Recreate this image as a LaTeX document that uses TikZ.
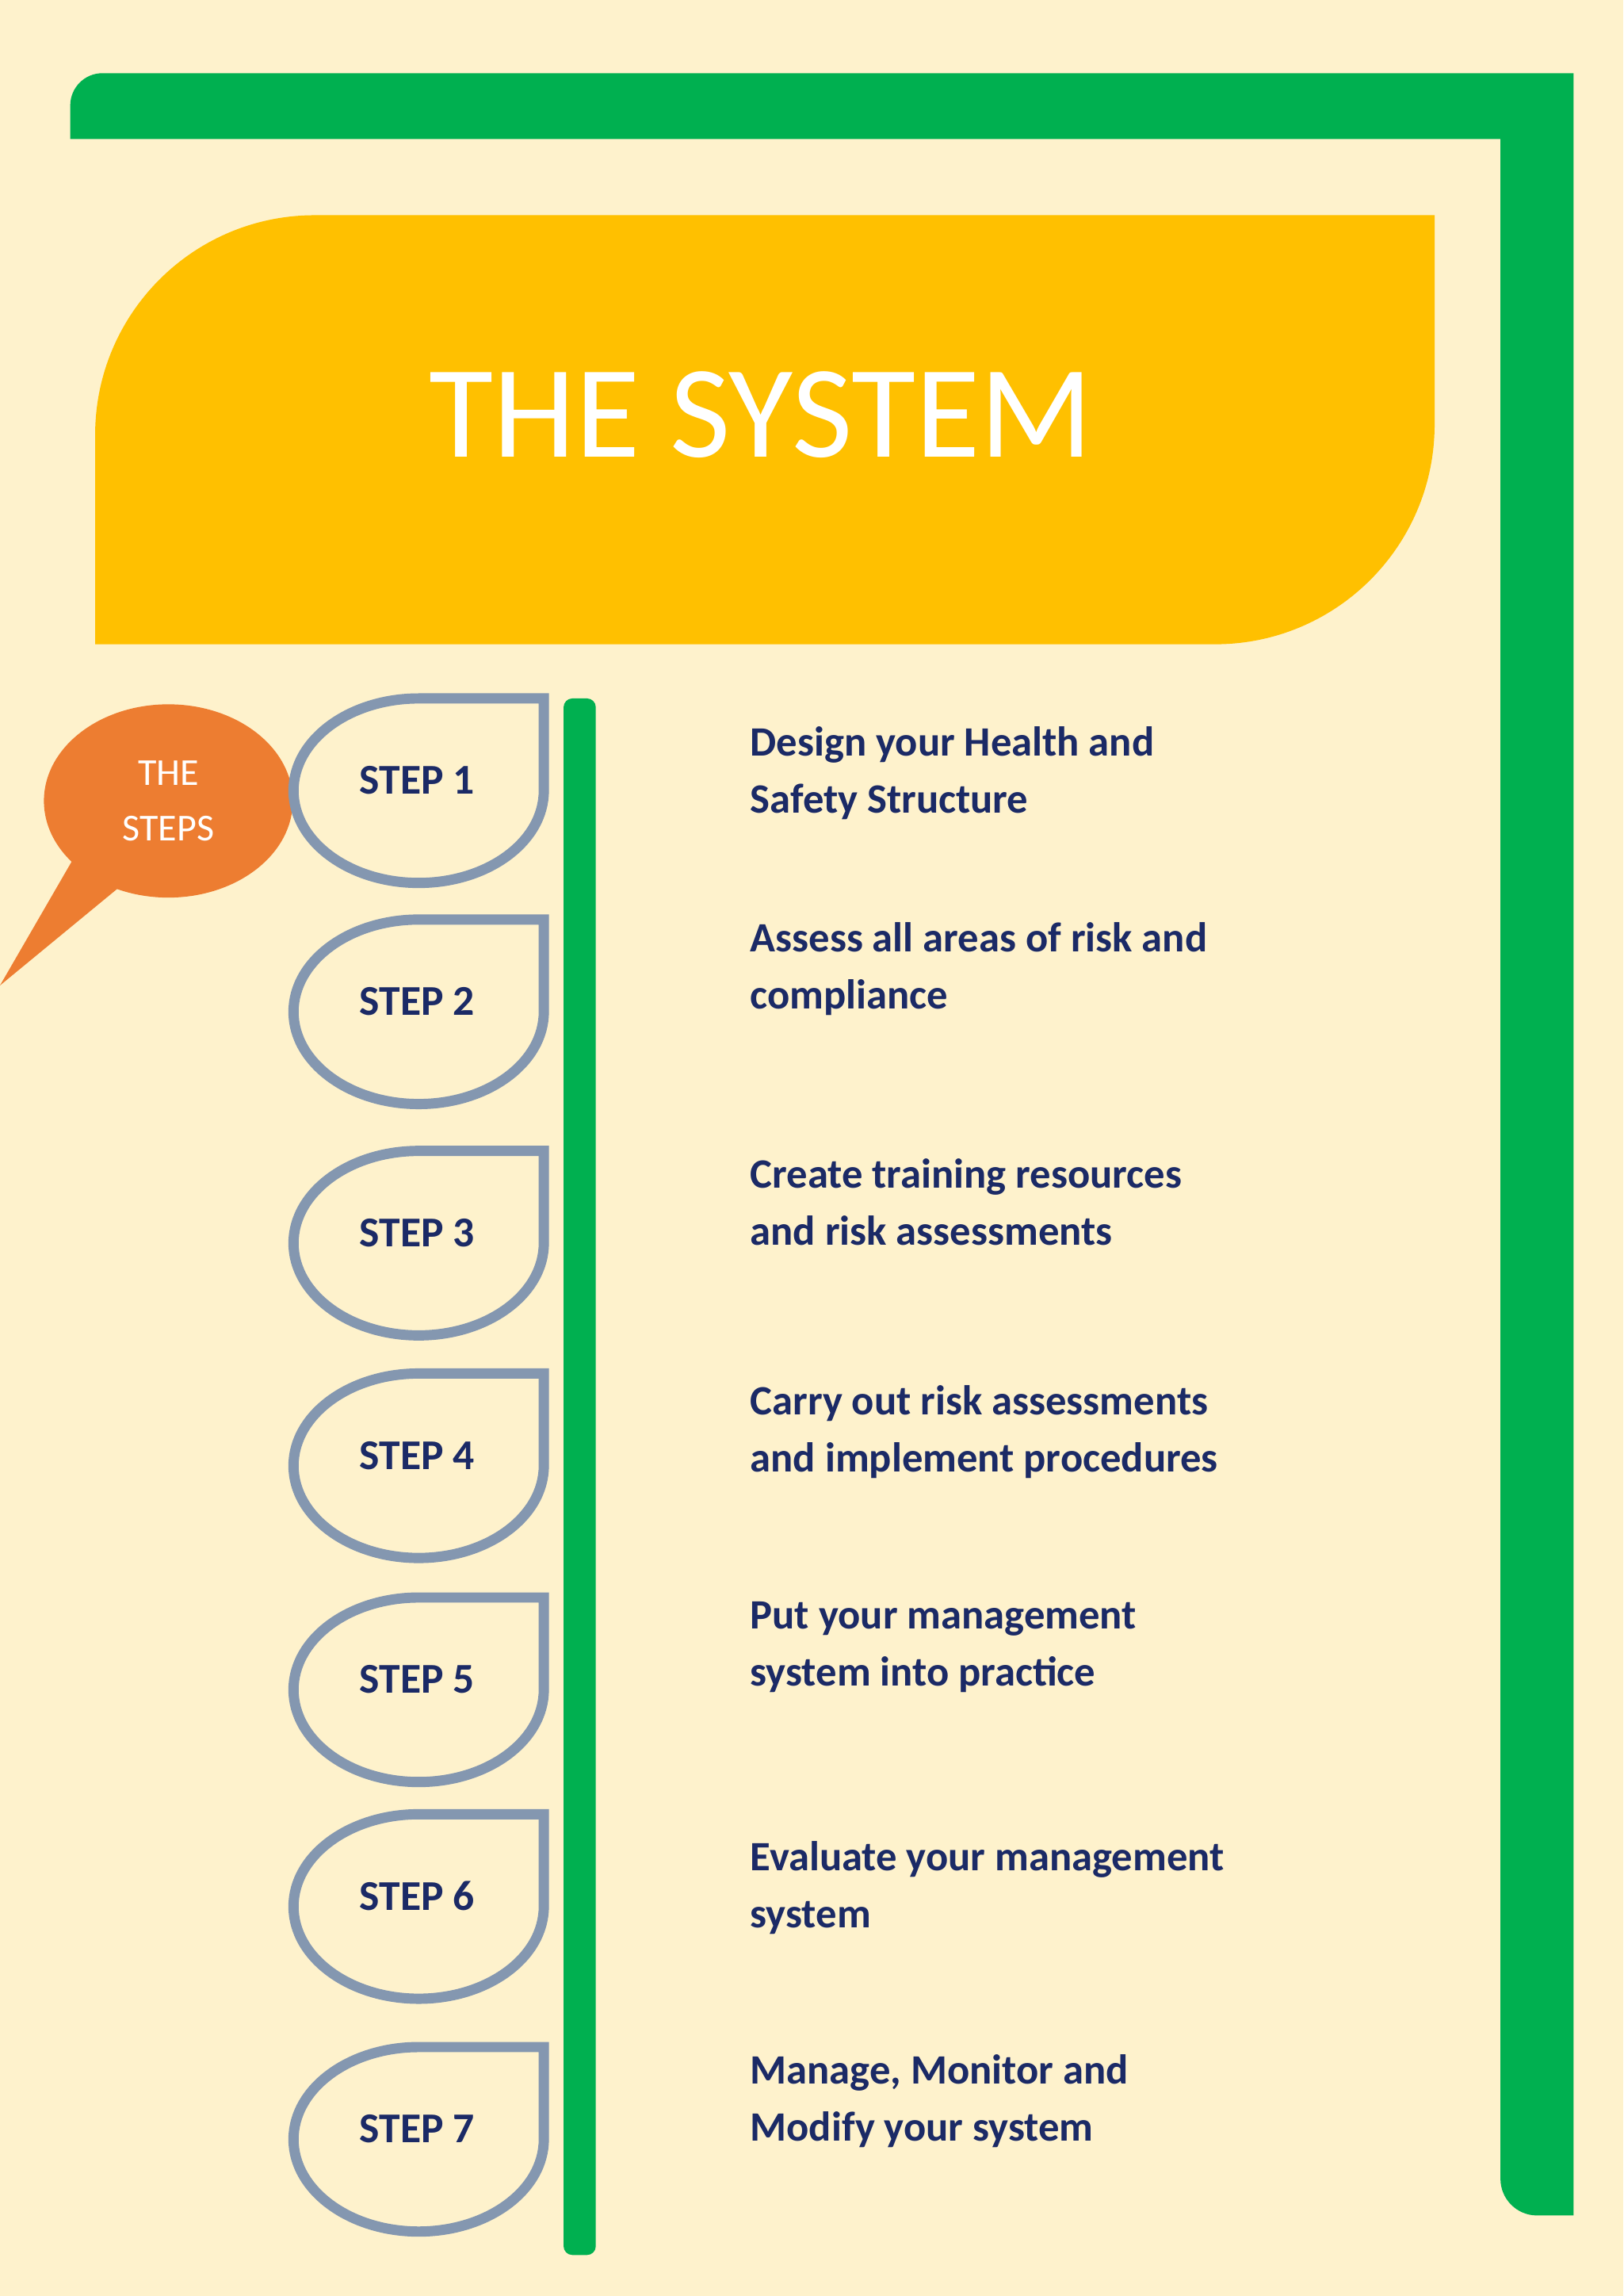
\documentclass[tikz,border=0pt]{standalone}
\usepackage{fontspec}
\setmainfont{Carlito}
\definecolor{bg}{HTML}{FEF2CC}
\definecolor{grn}{HTML}{00B050}
\definecolor{yel}{HTML}{FFC000}
\definecolor{org}{HTML}{ED7D31}
\definecolor{gry}{HTML}{8497B0}
\definecolor{navy}{HTML}{1B2A66}
\begin{document}
\begin{tikzpicture}[x=1pt,y=1pt,
  stepbox/.style={draw=gry,line width=7pt},
  steptxt/.style={font=\fontsize{29}{32}\selectfont\bfseries,text=navy},
  desc/.style={font=\fontsize{28.5}{39}\selectfont\bfseries,text=navy,anchor=west,align=left}]
\fill[bg] (0,0) rectangle (1109,1568);
\useasboundingbox (0,0) rectangle (1109,1568);
% green L frame
\fill[grn] (48,1473) -- (48,1496) arc[start angle=180,end angle=90,radius=22] -- (1075,1518) -- (1075,55) -- (1050,55) arc[start angle=-90,end angle=-180,radius=25] -- (1025,1473) -- cycle;
% banner
\fill[yel] (65,1128) -- (65,1271) arc[start angle=180,end angle=90,radius=150] -- (980,1421) -- (980,1278) arc[start angle=0,end angle=-90,radius=150] -- cycle;
\node[text=white,font=\fontsize{90}{96}\selectfont] (title) at (520,1285) {THE SYSTEM};
% vertical green line
\fill[grn,rounded corners=6pt] (385,28) rectangle (407,1091);
% speech bubble
\fill[org] (55,990) -- (0,895) -- (85,965) -- cycle;
\fill[org] (115,1021) ellipse[x radius=85,y radius=66];
\node[text=white,font=\fontsize{26}{38}\selectfont,align=center] (bub) at (115,1021) {THE\\STEPS};
% steps
\foreach \i/\cy in {1/1035,2/884,3/726,4/574,5/421,6/273,7/114}{
  \draw[stepbox] (371.5,\cy-7+63) -- (371.5,\cy-7) arc[start angle=0,end angle=-270,x radius=85.5,y radius=63] -- cycle;
  \node[steptxt] (s\i) at (285,\cy) {STEP \i};
}
\node[desc] (d1) at (509,1040) {Design your Health and\\Safety Structure};
\node[desc] (d2) at (509,906) {Assess all areas of risk and\\compliance};
\node[desc] (d3) at (509,747) {Create training resources\\and risk assessments};
\node[desc] (d4) at (509,590) {Carry out risk assessments\\and implement procedures};
\node[desc] (d5) at (509,443) {Put your management\\system into practice};
\node[desc] (d6) at (509,279) {Evaluate your management\\system};
\node[desc] (d7) at (509,133) {Manage, Monitor and\\Modify your system};
\end{tikzpicture}
\end{document}
